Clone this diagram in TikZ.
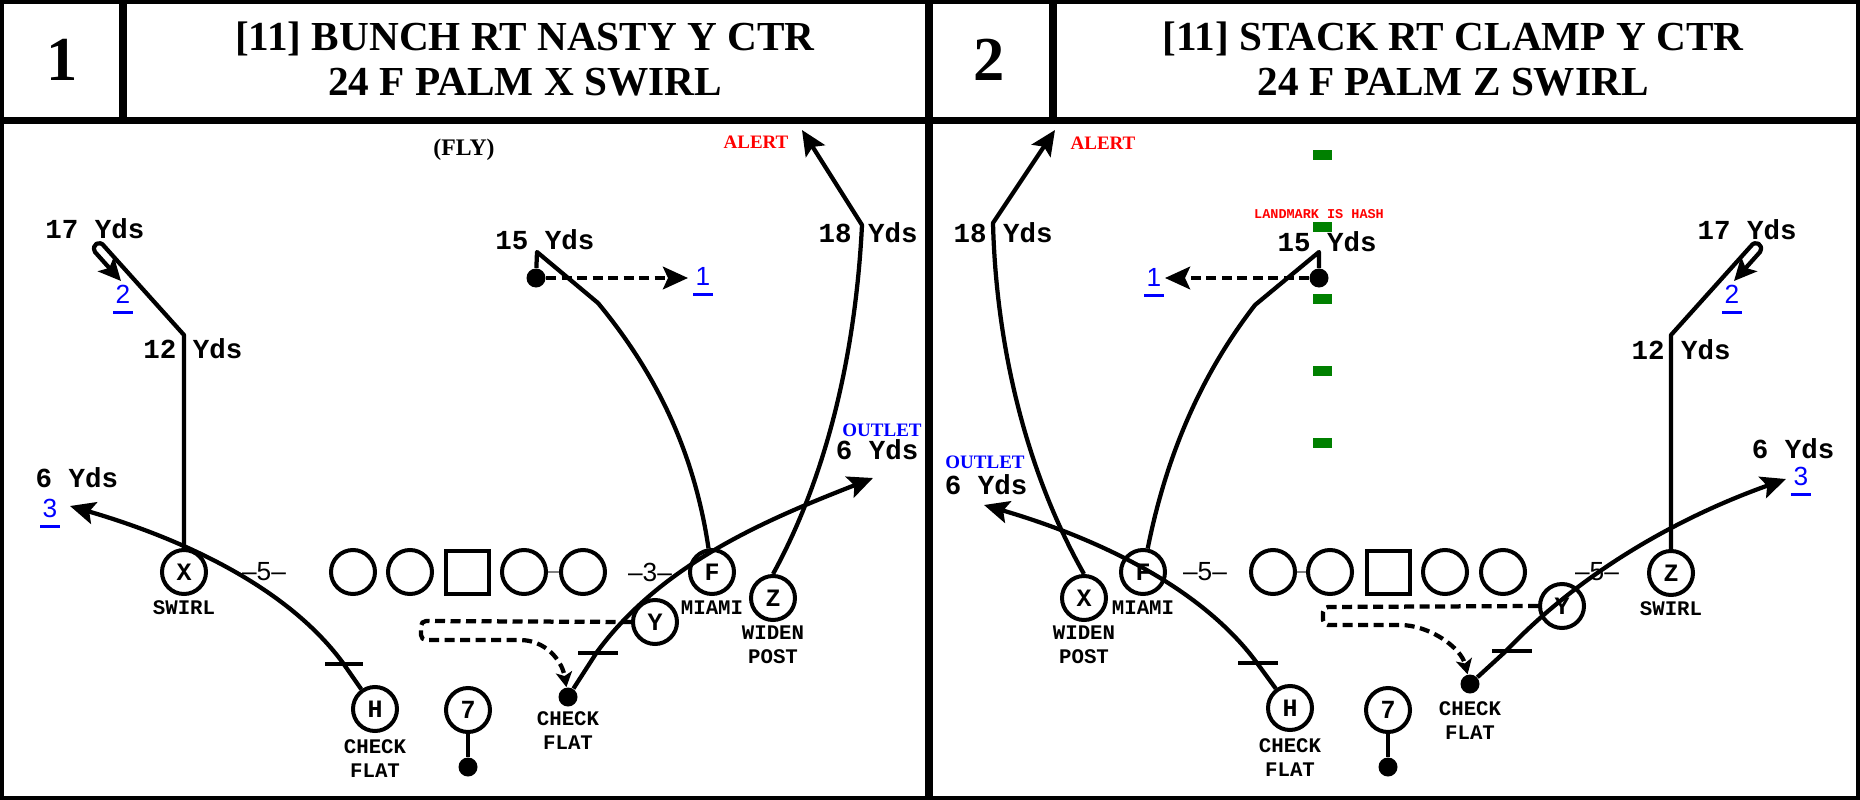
\documentclass[tikz,border=0pt]{standalone}
\usepackage{fontspec}
\setmainfont{Liberation Serif}
\newfontfamily\monofam{Liberation Mono}
\newfontfamily\sansfam{Liberation Sans}
\usetikzlibrary{arrows.meta}
\definecolor{hashgreen}{RGB}{0,128,0}
\newcommand\readnum[1]{\makebox[8pt]{#1}\llap{\rule[-4.4pt]{8pt}{1.3pt}}}
\begin{document}
\begin{tikzpicture}[x=.4pt,y=-.4pt,
                    route/.style={line width=1.7pt,line join=round},
                    cut/.style={route,dash pattern=on 4pt off 2.2pt},
                    blk/.style={line width=1.7pt},
                    link/.style={line width=.6pt,gray},
                    hdrline/.style={line width=3pt},
                    >={Stealth[length=10pt,width=9pt,inset=2pt]},
                    small/.tip={Stealth[length=9pt,width=8.5pt,inset=2pt]},
                    tiny/.tip={Stealth[length=6pt,width=6.5pt,inset=1.5pt]},
                    player/.style={circle,draw,line width=1.6pt,minimum size=17.6pt,inner sep=0pt,
                                   font=\monofam\fontsize{10}{10}\selectfont\bfseries},
                    qbfont/.style={font=\sansfam\fontsize{10}{10}\selectfont\bfseries},
                    oline/.style={circle,draw,line width=1.6pt,minimum size=17.6pt,inner sep=0pt},
                    snap/.style={rectangle,draw,line width=1.6pt,minimum size=17.2pt,inner sep=0pt},
                    dot/.style={circle,fill,inner sep=0pt,minimum size=7.6pt},
                    hash/.style={fill=hashgreen,minimum width=7.6pt,minimum height=4pt,inner sep=0pt},
                    tag/.style={font=\monofam\fontsize{8.3}{9.6}\selectfont\bfseries,align=center,inner sep=0pt},
                    yds/.style={font=\monofam\fontsize{11}{11}\selectfont\bfseries,inner sep=0pt},
                    mini/.style={font=\monofam\fontsize{5.4}{5.4}\selectfont\bfseries,text=red,inner sep=0pt},
                    split/.style={font=\sansfam\fontsize{10.5}{10.5}\selectfont,inner sep=0pt},
                    read/.style={font=\sansfam\fontsize{10.5}{10.5}\selectfont,text=blue,anchor=base,inner sep=0pt},
                    call/.style={font=\bfseries\fontsize{7.6}{8}\selectfont,inner sep=0pt},
                    note/.style={font=\bfseries\fontsize{9.5}{10}\selectfont,inner sep=0pt},
                    ttl/.style={font=\bfseries\fontsize{16.5}{18}\selectfont,anchor=base,inner sep=0pt},
                    num/.style={font=\bfseries\fontsize{25}{25}\selectfont,anchor=base,inner sep=0pt}]
 \useasboundingbox (0,0) rectangle (1860,800);
 \draw[line width=3.2pt] (0,0) rectangle (1860,800);
 \draw[hdrline] (0,120.5) -- (1860,120.5);
 \draw[hdrline] (929,0) -- (929,800);
 \draw[hdrline] (123,0) -- (123,120.5);
 \draw[hdrline] (1053,0) -- (1053,120.5);
 \node[num] (no1) at (62,80) {1};
 \node[num] (no2) at (989,80) {2};
 \node[ttl] (ta1) at (525,50) {[11] BUNCH RT NASTY Y CTR};
 \node[ttl] (tb1) at (525,95) {24 F PALM X SWIRL};
 \node[ttl] (ta2) at (1453,50) {[11] STACK RT CLAMP Y CTR};
 \node[ttl] (tb2) at (1453,95) {24 F PALM Z SWIRL};
 % play 1
 \node[player] (x1) at (184,572) {X};
 \node[oline] (lt1) at (353,572) {}; \node[oline] (lg1) at (410,572) {};
 \node[snap] (c1) at (467,572) {};
 \node[oline] (rg1) at (524,572) {}; \node[oline] (rt1) at (583,572) {};
 \draw[link] (rg1) -- (rt1);
 \node[player] (f1) at (712,572) {F};
 \node[player] (z1) at (773,598) {Z};
 \node[player] (y1) at (655,622) {Y};
 \node[player] (h1) at (375,709) {H};
 \node[player,qbfont] (q1) at (468,710) {7};
 \node[dot] (qd1) at (468,767) {};
 \draw[route] (q1) -- (qd1);
 \node[dot] (yd1) at (568,697) {};
 \node[dot] (fd1) at (536,278) {};
 \node[tag] (sw1) at (184,608) {SWIRL};
 \node[tag] (mi1) at (712,608) {MIAMI};
 \node[tag] (wp1) at (773,645) {WIDEN\\POST};
 \node[tag] (hc1) at (375,758.5) {CHECK\\FLAT};
 \node[tag] (yc1) at (568,731) {CHECK\\FLAT};
 \node[split] (sa1) at (264,572) {\textendash5\textendash};
 \node[split] (sb1) at (650,572) {\textendash3\textendash};
 \coordinate (xa1) at (184,335); \coordinate (xb1) at (104,246);
 \coordinate (xc1) at (95,252); \coordinate (xt1) at (121,281);
 \draw[route,-small] (x1) -- (xa1) -- (xb1) .. controls (100,240) and (91,244) .. (xc1) -- (xt1);
 \coordinate (ha1) at (343,663); \coordinate (ht1) at (70,506);
 \draw[route,->] (h1) -- (ha1) .. controls (282,580) and (166,534) .. (ht1);
 \draw[blk] (325,664) -- (363,664);
 \coordinate (fa1) at (598,303); \coordinate (fb1) at (537,252);
 \draw[route] (f1) .. controls (694,450) and (655,372) .. (fa1) -- (fb1) -- (fd1);
 \coordinate (r1) at (688,278);
 \draw[cut,->] (fd1) -- (r1);
 \coordinate (za1) at (862,225); \coordinate (zt1) at (802,130);
 \draw[route,->] (z1.north) .. controls (830,470) and (856,345) .. (za1) -- (zt1);
 \coordinate (ya1) at (421,621); \coordinate (yb1) at (421,640); \coordinate (yc1) at (515,640);
 \draw[cut,rounded corners=2pt,-tiny] (y1.west) -- (ya1) -- (yb1) -- (yc1) .. controls (545,640) and (562,660) .. (yd1);
 \coordinate (ye1) at (597,652); \coordinate (yt1) at (873,478);
 \draw[route,->] (yd1) -- (ye1) .. controls (663,562) and (771,518) .. (yt1);
 \draw[blk] (578,653) -- (618,653);
 \node[note] (fly1) at (464,150) {(FLY)};
 \node[yds] (d17a) at (95,229) {17 Yds};
 \node[yds] (d12a) at (193,349) {12 Yds};
 \node[yds] (d6a) at (77,478) {6 Yds};
 \node[read] (k2a) at (123,303) {\readnum{2}};
 \node[read] (k3a) at (50,517) {\readnum{3}};
 \node[yds] (d15a) at (545,240) {15 Yds};
 \node[read] (k1a) at (703,285) {\readnum{1}};
 \node[yds] (d18a) at (868,233) {18 Yds};
 \node[call,text=red] (al1) at (756,142) {ALERT};
 \node[call,text=blue] (ou1) at (882,430) {OUTLET};
 \node[yds] (d6b) at (877,450) {6 Yds};
 % play 2
 \foreach \hy in {155,227,299,371,443} \node[hash] (hm\hy) at (1322,\hy) {};
 \node[player] (x2) at (1084,598) {X};
 \node[player] (f2) at (1143,572) {F};
 \node[oline] (lt2) at (1273,572) {}; \node[oline] (lg2) at (1330,572) {};
 \draw[link] (lt2) -- (lg2);
 \node[snap] (c2) at (1388,572) {};
 \node[oline] (rg2) at (1445,572) {}; \node[oline] (rt2) at (1503,572) {};
 \node[player] (y2) at (1562,606) {Y};
 \node[player] (z2) at (1671,573) {Z};
 \node[player] (h2) at (1290,708) {H};
 \node[player,qbfont] (q2) at (1388,710) {7};
 \node[dot] (qd2) at (1388,767) {};
 \draw[route] (q2) -- (qd2);
 \node[dot] (yd2) at (1470,684) {};
 \node[dot] (fd2) at (1319,278) {};
 \node[tag] (wp2) at (1084,645) {WIDEN\\POST};
 \node[tag] (mi2) at (1143,608) {MIAMI};
 \node[tag] (sw2) at (1671,609) {SWIRL};
 \node[tag] (hc2) at (1290,757.5) {CHECK\\FLAT};
 \node[tag] (yc2) at (1470,721) {CHECK\\FLAT};
 \node[split] (sa2) at (1205,572) {\textendash5\textendash};
 \node[split] (sb2) at (1597,572) {\textendash5\textendash};
 \coordinate (xa2) at (993,223); \coordinate (xt2) at (1055,130);
 \draw[route,->] (x2.north) .. controls (1025,470) and (996,343) .. (xa2) -- (xt2);
 \coordinate (fa2) at (1255,305); \coordinate (fb2) at (1319,252);
 \draw[route] (f2) .. controls (1166,457) and (1200,376) .. (fa2) -- (fb2) -- (fd2);
 \coordinate (r2) at (1165,278);
 \draw[cut,->] (fd2) -- (r2);
 \coordinate (ha2) at (1257,663); \coordinate (ht2) at (984,505);
 \draw[route,->] (h2) -- (ha2) .. controls (1196,580) and (1080,533) .. (ht2);
 \draw[blk] (1238,663) -- (1278,663);
 \coordinate (za2) at (1671,335); \coordinate (zb2) at (1751,246);
 \coordinate (zc2) at (1760,252); \coordinate (zt2) at (1734,281);
 \draw[route,-small] (z2) -- (za2) -- (zb2) .. controls (1755,240) and (1764,244) .. (zc2) -- (zt2);
 \coordinate (ya2) at (1323,607); \coordinate (yb2) at (1323,625); \coordinate (yc2) at (1395,625);
 \draw[cut,rounded corners=2pt,-tiny] (y2.west) -- (ya2) -- (yb2) -- (yc2) .. controls (1430,625) and (1461,648) .. (yd2);
 \coordinate (ye2) at (1506,651); \coordinate (yt2) at (1786,479);
 \draw[route,->] (yd2) -- (ye2) .. controls (1583,570) and (1682,516) .. (yt2);
 \draw[blk] (1492,651) -- (1532,651);
 \node[call,text=red] (al2) at (1103,143) {ALERT};
 \node[yds] (d18b) at (1003,233) {18 Yds};
 \node[mini] (lm2) at (1319,214) {LANDMARK IS HASH};
 \node[yds] (d15b) at (1327,242) {15 Yds};
 \node[read] (k1b) at (1154,286) {\readnum{1}};
 \node[call,text=blue] (ou2) at (985,462) {OUTLET};
 \node[yds] (d6c) at (986,485) {6 Yds};
 \node[yds] (d17b) at (1747,230) {17 Yds};
 \node[read] (k2b) at (1732,303) {\readnum{2}};
 \node[yds] (d12b) at (1681,350) {12 Yds};
 \node[yds] (d6d) at (1793,449) {6 Yds};
 \node[read] (k3b) at (1801,485) {\readnum{3}};
\end{tikzpicture}
\end{document}
